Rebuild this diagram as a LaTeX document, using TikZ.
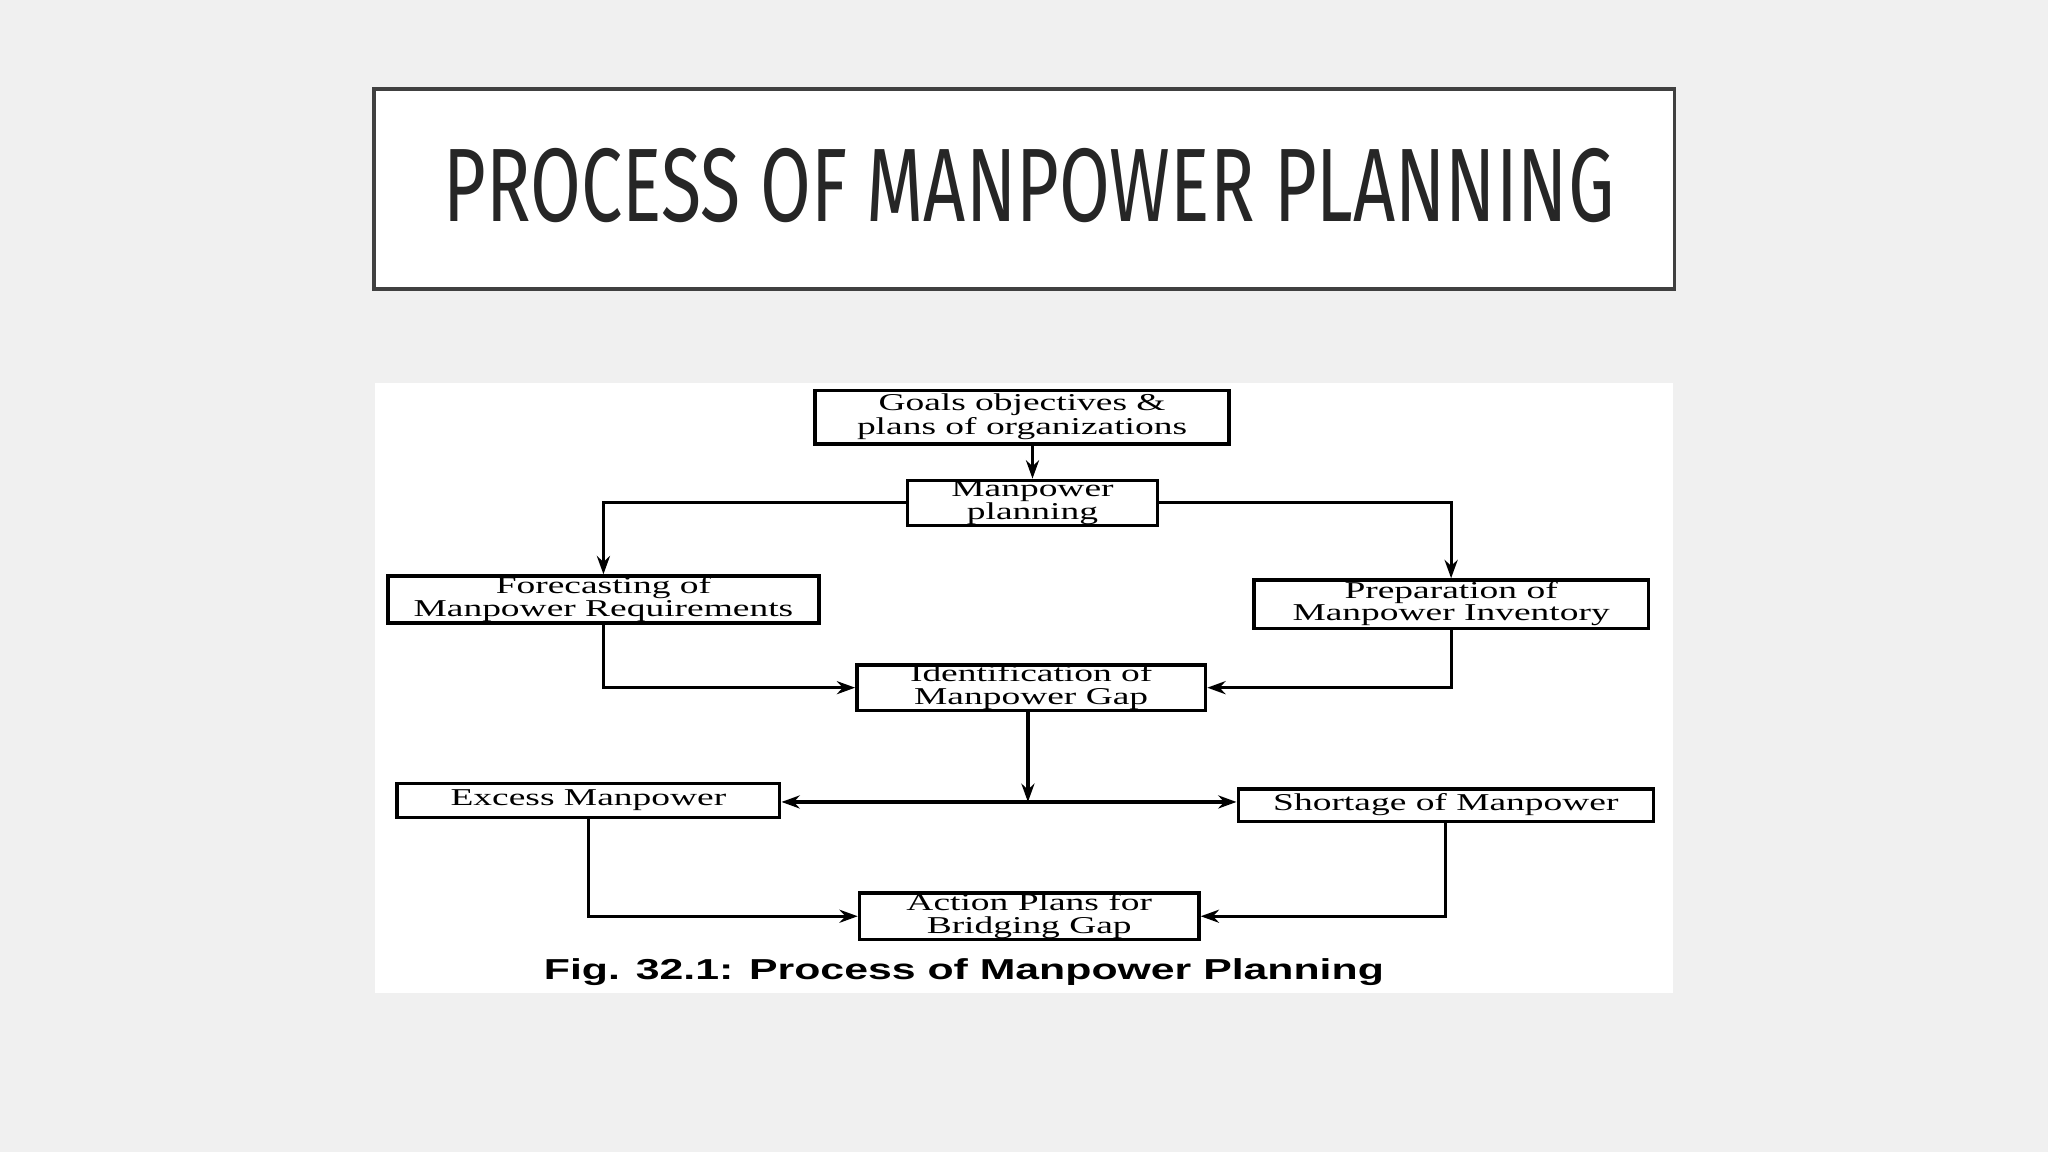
\documentclass[tikz,border=0pt]{standalone}
\usepackage{fontspec}
\setmainfont{Liberation Serif}
\newfontfamily\titlefont{Fira Sans}
\newfontfamily\capfont{Liberation Sans}
\usetikzlibrary{arrows.meta}
\newcommand{\sx}[1]{\scalebox{1.55}[1]{\begin{tabular}{@{}c@{}}#1\end{tabular}}}
\tikzset{
 bx/.style={draw=black,line width=2.6pt,fill=white,inner sep=0pt,align=center,font=\fontsize{18.5}{16}\selectfont},
 ar/.style={line width=2.4pt,-{Stealth[length=14pt,width=10pt]}},
}
\begin{document}
\begin{tikzpicture}[x=1pt,y=-1pt]
\fill[black!6] (0,0) rectangle (1568,882);
\useasboundingbox (0,0) rectangle (1568,882);
\node[draw=black!75,line width=3pt,fill=white,minimum width=996,minimum height=153,inner sep=0pt] (title) at (784,144.5) {};
\node[text=black!85] (tt) at (788,142) {\resizebox{896pt}{56pt}{\titlefont PROCESS OF MANPOWER PLANNING}};
\fill[white] (287,293) rectangle (1281,760);
\node[bx,minimum width=317,minimum height=41] (g) at (782.5,319.5) {\sx{Goals objectives \&\\plans of organizations}};
\node[bx,minimum width=191,minimum height=34] (mp) at (790.5,385) {\sx{Manpower\\planning}};
\node[bx,minimum width=330,minimum height=36] (f) at (462,459) {\sx{Forecasting of\\Manpower Requirements}};
\node[bx,minimum width=302,minimum height=37] (p) at (1111,462.5) {\sx{Preparation of\\Manpower Inventory}};
\node[bx,minimum width=267,minimum height=35] (id) at (789.5,526.5) {\sx{Identification of\\Manpower Gap}};
\node[bx,minimum width=293,minimum height=26] (ex) at (450.5,613) {\sx{Excess Manpower}};
\node[bx,minimum width=318,minimum height=25] (sh) at (1107,616.5) {\sx{Shortage of Manpower}};
\node[bx,minimum width=260,minimum height=35] (ac) at (788,701.5) {\sx{Action Plans for\\Bridging Gap}};
\node (cap) at (738,744) {\resizebox{643pt}{16pt}{\capfont\bfseries Fig. 32.1: Process of Manpower Planning}};
\coordinate (m) at (787,614);
\draw[ar] (g.south -| mp.north) -- (mp.north);
\draw[ar] (mp.west) -| (f.north);
\draw[ar] (mp.east) -| (p.north);
\draw[ar] (f.south) |- (id.west);
\draw[ar] (p.south) |- (id.east);
\draw[ar] (id.south -| m) -- (m);
\draw[line width=2.4pt,{Stealth[length=14pt,width=10pt]}-{Stealth[length=14pt,width=10pt]}] (ex.east |- m) -- (sh.west |- m);
\draw[ar] (ex.south) |- (ac.west);
\draw[ar] (sh.south) |- (ac.east);
\end{tikzpicture}
\end{document}
